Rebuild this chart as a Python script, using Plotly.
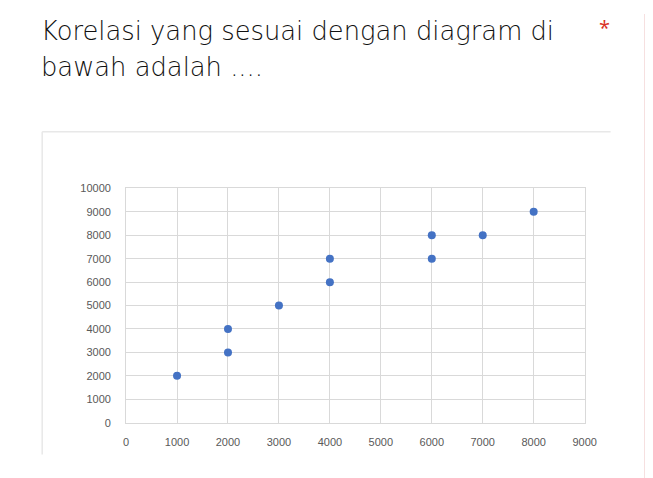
import plotly.graph_objects as go

# scatter data
x_vals = [1000, 2000, 2000, 3000, 4000, 4000, 6000, 6000, 7000, 8000]
y_vals = [2000, 3000, 4000, 5000, 6000, 7000, 7000, 8000, 8000, 9000]

x_ticks = [0, 1000, 2000, 3000, 4000, 5000, 6000, 7000, 8000, 9000]
y_ticks = [0, 1000, 2000, 3000, 4000, 5000, 6000, 7000, 8000, 9000, 10000]
y_labels = ["0", "1000", "2000", "3000", "4000", "5000", "6000", "7000", "8000", "9000", "10000"]

question_line1 = "Korelasi yang sesuai dengan diagram di"
question_line2 = "bawah adalah ...."

W, H = 653, 478
# the page shows the figure slightly shifted/scaled, so screen px -> figure px
S, OX, OY = 0.978, 9.8, 13.0


def px(x):
    return min(max((x - OX) / S / W, 0), 1)


def py(y):
    return min(max(1 - (y - OY) / S / H, 0), 1)


fig = go.Figure()
fig.add_trace(go.Scatter(
    x=x_vals, y=y_vals, mode="markers",
    marker=dict(color="#4472C4", size=8),
    hoverinfo="x+y", showlegend=False,
))

tick_font = dict(family="Liberation Sans, Arial, sans-serif", size=11, color="#595959")

fig.update_layout(
    width=W, height=H,
    margin=dict(l=0, r=0, t=0, b=0),
    paper_bgcolor="white",
    plot_bgcolor="white",
    xaxis=dict(
        domain=[px(125), px(584)],
        range=[0, 9000], tickvals=x_ticks,
        showgrid=True, gridcolor="#d9d9d9", gridwidth=1,
        showline=True, linecolor="#d9d9d9", mirror=True,
        zeroline=False, ticks="", tickfont=tick_font,
        ticklabelstandoff=9, fixedrange=True,
    ),
    yaxis=dict(
        domain=[py(423), py(188)],
        range=[0, 10000], tickvals=y_ticks, ticktext=y_labels,
        showgrid=True, gridcolor="#d9d9d9", gridwidth=1,
        showline=True, linecolor="#d9d9d9", mirror=True,
        zeroline=False, ticks="", tickfont=tick_font,
        ticklabelstandoff=12, fixedrange=True,
    ),
)

title_font = dict(family="DejaVu Sans, Open Sans, sans-serif", size=25.8, color="#111111", weight=200)
fig.add_annotation(text=question_line1, xref="paper", yref="paper",
                   x=px(38), y=py(30.5), xanchor="left", yanchor="middle",
                   showarrow=False, font=title_font)
fig.add_annotation(text=question_line2, xref="paper", yref="paper",
                   x=px(38), y=py(66.5), xanchor="left", yanchor="middle",
                   showarrow=False, font=title_font)
fig.add_annotation(text="*", xref="paper", yref="paper",
                   x=px(604), y=py(27), xanchor="center", yanchor="middle",
                   showarrow=False, font=dict(family="Open Sans, sans-serif", size=20, color="#d93025"))

# image frame (top + left edge) and the pink card border on the right
frame = dict(color="#e8e8e8", width=1.5)
fig.add_shape(type="line", xref="paper", yref="paper",
              x0=px(41), x1=px(610), y0=py(131), y1=py(131), line=frame)
fig.add_shape(type="line", xref="paper", yref="paper",
              x0=px(41), x1=px(41), y0=py(131), y1=py(455), line=frame)
pink = dict(color="#f6dede", width=3)
fig.add_shape(type="line", xref="paper", yref="paper",
              x0=px(645), x1=px(645), y0=0, y1=1, line=pink)

fig.write_html("out.html")
